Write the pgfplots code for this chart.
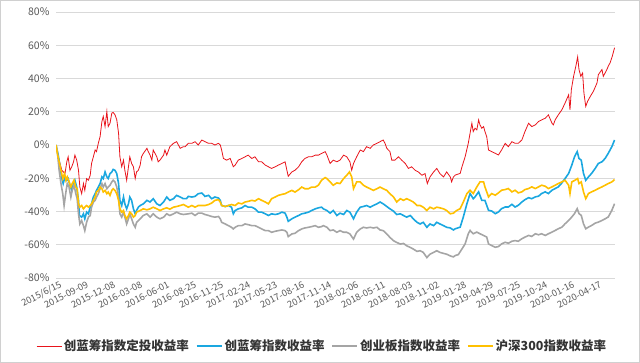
\documentclass[border=0pt]{standalone}
\usepackage{fontspec}
\setmainfont{Noto Sans CJK SC}
\usepackage{pgfplots}
\pgfplotsset{compat=1.18}

\definecolor{cRed}{HTML}{E8141B}
\definecolor{cBlue}{HTML}{1AA7E0}
\definecolor{cGray}{HTML}{A5A5A5}
\definecolor{cGold}{HTML}{FFC000}
\definecolor{gridGray}{HTML}{D9D9D9}
\definecolor{frameGray}{HTML}{D0D0D0}
\definecolor{tickGray}{HTML}{595959}

\begin{document}
\begin{tikzpicture}
\path[use as bounding box] (-56pt,-85pt) rectangle (584pt,278pt);
\draw[frameGray, line width=0.8pt] (-55.6pt,-84.6pt) rectangle (583.6pt,277.6pt);
\begin{axis}[
  at={(0pt,0pt)}, anchor=south west,
  scale only axis, width=559pt, height=266pt,
  xmin=0, xmax=1242, ymin=-80, ymax=80,
  axis line style={draw=none},
  major tick length=0pt,
  ymajorgrids, grid style={gridGray, line width=0.9pt},
  ytick={-80,-60,...,80},
  yticklabels={-80\%,-60\%,-40\%,-20\%,0\%,20\%,40\%,60\%,80\%},
  yticklabel style={font=\fontsize{10.5}{12}\selectfont, text=tickGray, xshift=-3pt},
  xtick={0,60,...,1200},
  xticklabels={2015/6/15,2015-09-09,2015-12-08,2016-03-08,2016-06-01,2016-08-25,2016-11-25,2017-02-24,2017-05-23,2017-08-16,2017-11-14,2018-02-06,2018-05-11,2018-08-03,2018-11-02,2019-01-28,2019-04-29,2019-07-25,2019-10-24,2020-01-16,2020-04-17},
  xticklabel style={font=\fontsize{9.3}{10}\selectfont, text=tickGray, rotate=27, anchor=north east, inner sep=0.5pt, yshift=-3pt, xshift=2pt},
  legend columns=4,
  legend style={at={(axis description cs:0.476,-0.256)}, anchor=center, draw=none, fill=none,
    font=\bfseries\fontsize{12.5}{14}\selectfont, text=black!80,
    /tikz/every even column/.append style={column sep=5pt}},
  legend image code/.code={\draw[#1] (0pt,0pt) -- (25pt,0pt);},
]
% 创蓝筹指数定投收益率
\addplot[cRed, line width=0.8pt] coordinates {
(0,0) (5,-7.1) (13,-15.2) (20,-17.2) (24,-10.1) (27,-7.1) (31,-15.2) (35,-13.1) (39,-10.1) (42,-6.1) (46,-9.1) (50,-15.2) (53,-25.3) (57,-29.3) (61,-23.2) (64,-27.3) (68,-20.2) (72,-21.2) (76,-18.2) (79,-11.1) (83,-7.1) (87,-3.0) (90,-4.0) (94,1.0) (98,5.1) (102,14.1) (105,17.2) (109,11.1) (113,20.2) (116,11.1) (120,13.1) (124,19.2) (127,19.6) (131,18.2) (135,15.2) (139,7.1) (142,-7.1) (146,-13.1) (150,-9.1) (153,-15.2) (157,-21.2) (161,-13.1) (164,-7.1) (168,-11.1) (172,-13.1) (176,-20.2) (179,-16.2) (183,-15.2) (187,-12.1) (190,-7.1) (194,-5.1) (202,-2.0) (205,-4.0) (209,-6.1) (213,-9.1) (216,-3.0) (224,-7.1) (227,-10.1) (231,-9.1) (239,-6.1) (242,-3.0) (246,-6.1) (253,-1.0) (261,1.0) (268,2.0) (276,-2.0) (283,-1.0) (287,-1.0) (294,1.0) (302,1.0) (309,2.0) (316,0) (324,3.0) (331,2.0) (339,1.0) (346,1.0) (353,0) (361,1.0) (365,0) (368,-3.0) (372,-8.1) (379,-9.1) (387,-8.1) (394,-13.1) (398,-12.1) (405,-9.1) (413,-8.1) (420,-7.1) (427,-6.1) (435,-8.1) (442,-7.1) (450,-10.1) (457,-10.1) (465,-12.1) (472,-13.1) (479,-14.1) (487,-13.1) (494,-12.1) (502,-11.1) (509,-10.1) (513,-15.2) (516,-18.8) (524,-16.2) (531,-15.2) (539,-13.1) (546,-10.1) (553,-8.1) (561,-7.1) (568,-7.1) (576,-6.1) (583,-6.1) (590,-5.1) (598,-4.0) (602,-6.1) (609,-11.1) (616,-9.1) (624,-10.1) (631,-9.1) (639,-6.1) (646,-7.1) (653,-10.1) (657,-15.2) (661,-11.1) (668,-7.1) (676,-3.0) (683,-4.0) (690,-1.0) (698,-2.0) (705,0) (713,1.0) (720,2.0) (727,3.0) (731,1.0) (735,-2.0) (742,-4.0) (746,-9.1) (753,-9.1) (761,-7.1) (768,-9.1) (776,-11.1) (783,-14.1) (790,-13.1) (798,-15.2) (805,-16.2) (813,-18.2) (820,-17.2) (825,-23.2) (831,-19.2) (839,-16.2) (846,-14.1) (853,-17.2) (861,-19.2) (868,-16.2) (876,-19.2) (879,-22.2) (883,-19.2) (887,-18.1) (898,-17.1) (902,-13.1) (909,-7.1) (916,1.0) (920,7.1) (924,13.1) (927,8.1) (931,10.1) (935,9.1) (939,15.1) (942,12.1) (946,10.1) (950,11.1) (953,8.1) (957,5.0) (961,-3.0) (968,-4.0) (976,-5.0) (983,-6.0) (990,-3.0) (998,1.0) (1005,-1.0) (1013,2.0) (1020,1.0) (1027,1.0) (1035,3.0) (1042,8.1) (1050,13.1) (1057,11.1) (1065,12.1) (1072,14.1) (1079,15.1) (1087,16.1) (1094,18.1) (1102,13.1) (1105,12.1) (1109,15.1) (1116,18.1) (1124,21.2) (1131,25.2) (1139,30.2) (1142,21.2) (1145,33.3) (1150,41.3) (1155,47.4) (1159,53.0) (1162,45.4) (1166,41.3) (1170,43.3) (1173,31.2) (1177,23.2) (1181,26.2) (1187,29.2) (1194,32.3) (1202,37.3) (1205,42.3) (1213,45.4) (1216,41.3) (1224,45.4) (1227,47.4) (1231,49.4) (1236,53.4) (1241,58.5)
};
\addlegendentry{创蓝筹指数定投收益率}
% 创蓝筹指数收益率
\addplot[cBlue, line width=1.6pt] coordinates {
(0,0) (5,-6.1) (9,-13.1) (13,-20.2) (16,-23.2) (20,-19.2) (24,-21.2) (27,-20.2) (31,-24.2) (35,-27.3) (39,-23.2) (42,-21.2) (46,-25.3) (50,-33.3) (52,-42.4) (57,-43.4) (61,-41.4) (64,-44.4) (68,-40.4) (72,-41.4) (76,-37.4) (79,-35.4) (83,-31.3) (87,-29.3) (90,-27.3) (94,-25.3) (98,-23.2) (102,-19.2) (105,-20.2) (109,-16.2) (113,-19.2) (116,-20.2) (120,-17.2) (124,-16.2) (127,-14.7) (131,-15.2) (135,-17.2) (139,-23.2) (142,-33.3) (146,-36.4) (150,-31.3) (153,-35.4) (157,-38.4) (161,-35.4) (164,-31.3) (168,-33.3) (172,-38.4) (176,-41.4) (179,-39.4) (183,-37.4) (187,-36.4) (194,-35.4) (202,-33.3) (209,-34.3) (216,-32.3) (224,-35.4) (231,-36.4) (239,-34.3) (246,-31.3) (253,-33.3) (261,-32.3) (268,-30.3) (276,-31.3) (283,-32.3) (290,-32.3) (294,-30.9) (302,-31.3) (309,-30.9) (316,-29.3) (324,-28.9) (331,-30.9) (339,-30.3) (346,-32.3) (353,-31.3) (361,-31.9) (365,-33.3) (368,-36.4) (376,-37.0) (383,-36.4) (390,-37.4) (394,-41.4) (398,-39.4) (405,-38.4) (413,-37.8) (420,-36.4) (427,-37.4) (435,-37.4) (442,-38.4) (450,-40.4) (457,-40.4) (465,-41.4) (472,-42.4) (479,-41.4) (487,-41.8) (494,-41.4) (502,-40.4) (509,-41.0) (513,-43.4) (516,-45.9) (524,-44.4) (531,-43.4) (539,-42.4) (546,-41.4) (553,-41.0) (561,-40.4) (568,-39.4) (576,-38.4) (583,-37.8) (590,-37.4) (594,-38.4) (602,-39.4) (609,-41.0) (616,-39.4) (624,-42.4) (631,-41.0) (639,-41.8) (646,-39.4) (653,-40.4) (661,-44.4) (668,-40.4) (676,-37.4) (683,-37.0) (690,-36.4) (698,-37.4) (705,-36.4) (713,-35.4) (720,-34.3) (727,-35.4) (735,-37.0) (742,-38.4) (750,-39.8) (757,-41.8) (765,-41.4) (772,-42.4) (779,-43.4) (787,-42.4) (794,-44.4) (802,-46.5) (809,-47.5) (816,-46.5) (824,-49.5) (831,-47.5) (839,-48.5) (846,-46.5) (853,-47.5) (861,-48.5) (868,-49.5) (876,-49.9) (883,-51.1) (887,-50.4) (898,-49.4) (905,-43.3) (913,-35.3) (920,-29.2) (927,-32.3) (931,-31.2) (939,-28.2) (946,-33.3) (953,-33.3) (961,-39.3) (968,-39.7) (976,-41.3) (983,-40.3) (990,-38.3) (998,-37.3) (1005,-37.3) (1013,-35.7) (1020,-37.3) (1027,-36.3) (1035,-34.3) (1042,-32.9) (1050,-31.7) (1057,-32.3) (1065,-31.2) (1072,-30.8) (1079,-29.2) (1087,-28.2) (1094,-29.2) (1102,-27.2) (1109,-26.2) (1116,-25.2) (1124,-22.8) (1131,-20.2) (1139,-17.1) (1146,-12.1) (1152,-7.1) (1158,-4.0) (1162,-8.1) (1167,-9.1) (1172,-17.1) (1177,-21.2) (1183,-19.2) (1190,-17.1) (1198,-14.1) (1205,-11.1) (1213,-10.1) (1220,-8.1) (1227,-5.0) (1235,-1.0) (1241,3.0)
};
\addlegendentry{创蓝筹指数收益率}
% 创业板指数收益率
\addplot[cGray, line width=1.6pt] coordinates {
(0,0) (3,-4.0) (7,-15.2) (11,-23.2) (15,-29.3) (18,-36.4) (22,-28.3) (25,-23.2) (29,-25.3) (33,-31.3) (36,-27.3) (40,-24.2) (44,-29.3) (47,-32.3) (50,-41.4) (53,-47.5) (57,-45.5) (61,-48.5) (64,-51.5) (68,-46.5) (72,-43.4) (76,-42.4) (79,-37.4) (83,-34.3) (87,-33.3) (90,-31.3) (94,-29.3) (98,-26.3) (102,-23.2) (105,-25.3) (109,-23.2) (113,-26.3) (116,-25.3) (120,-24.2) (124,-22.2) (127,-21.2) (131,-22.2) (135,-25.3) (139,-31.3) (142,-41.4) (146,-43.4) (150,-40.4) (153,-43.4) (157,-47.5) (161,-44.4) (164,-41.4) (168,-44.4) (172,-47.5) (176,-49.5) (179,-46.5) (187,-44.4) (194,-42.4) (202,-41.4) (209,-43.4) (216,-41.4) (224,-43.4) (231,-44.4) (239,-43.4) (246,-41.4) (253,-42.4) (261,-41.4) (268,-40.4) (276,-41.4) (283,-41.8) (294,-41.4) (302,-41.0) (309,-42.4) (316,-41.0) (324,-41.0) (331,-41.8) (339,-42.4) (346,-43.0) (353,-43.4) (361,-43.0) (365,-44.4) (368,-46.5) (376,-47.5) (383,-48.5) (390,-49.5) (394,-50.5) (398,-49.5) (405,-48.5) (413,-48.5) (420,-47.5) (427,-47.9) (435,-48.5) (442,-48.5) (450,-49.5) (457,-50.5) (465,-51.5) (472,-51.5) (479,-52.5) (487,-51.9) (494,-51.5) (502,-51.1) (509,-51.5) (513,-52.5) (516,-55.1) (524,-53.5) (531,-53.1) (539,-51.5) (546,-50.5) (553,-49.9) (561,-49.5) (568,-49.1) (576,-48.5) (583,-49.5) (590,-49.1) (594,-48.5) (602,-49.5) (609,-51.5) (616,-51.1) (624,-52.5) (631,-51.5) (639,-52.5) (646,-52.5) (653,-53.5) (661,-56.6) (668,-52.5) (676,-50.5) (683,-49.5) (690,-49.9) (698,-49.5) (705,-49.9) (713,-49.5) (720,-51.1) (727,-51.5) (735,-53.5) (742,-55.6) (750,-57.6) (757,-58.6) (765,-59.6) (772,-59.2) (779,-60.6) (787,-61.6) (794,-62.6) (802,-64.0) (809,-63.6) (816,-64.6) (824,-67.7) (831,-65.7) (839,-64.6) (846,-63.6) (853,-64.6) (861,-65.2) (868,-65.7) (876,-66.7) (883,-67.3) (887,-66.5) (894,-65.9) (902,-62.5) (909,-59.5) (916,-53.4) (920,-51.4) (927,-53.4) (935,-52.4) (942,-53.4) (950,-54.4) (957,-55.4) (961,-59.5) (968,-60.5) (976,-61.5) (983,-61.1) (990,-59.5) (998,-58.5) (1005,-59.1) (1013,-57.9) (1020,-57.5) (1027,-57.9) (1035,-56.4) (1042,-55.4) (1050,-54.4) (1057,-55.0) (1065,-53.4) (1072,-54.0) (1079,-53.4) (1087,-54.4) (1094,-53.4) (1102,-52.4) (1109,-51.4) (1116,-50.4) (1124,-49.4) (1131,-47.4) (1139,-45.4) (1146,-43.3) (1152,-41.3) (1158,-38.3) (1162,-41.3) (1167,-42.3) (1172,-47.4) (1177,-50.4) (1183,-49.4) (1190,-48.4) (1198,-47.0) (1205,-46.4) (1213,-45.4) (1220,-44.4) (1227,-43.3) (1235,-39.3) (1241,-35.3)
};
\addlegendentry{创业板指数收益率}
% 沪深300指数收益率
\addplot[cGold, line width=1.6pt] coordinates {
(0,0) (3,-5.1) (7,-10.1) (11,-15.2) (15,-20.2) (19,-17.2) (22,-21.2) (25,-19.2) (29,-22.2) (33,-25.3) (36,-23.2) (40,-21.2) (44,-25.3) (47,-26.3) (50,-35.4) (53,-37.4) (57,-36.4) (61,-38.4) (64,-37.4) (68,-36.4) (72,-37.4) (76,-36.4) (79,-35.4) (83,-33.3) (87,-31.3) (90,-28.3) (94,-27.3) (98,-25.3) (102,-26.3) (105,-28.3) (109,-27.3) (113,-29.3) (116,-28.3) (120,-30.3) (124,-27.3) (127,-26.3) (131,-27.3) (135,-29.3) (139,-33.3) (142,-38.4) (146,-40.4) (150,-39.4) (153,-42.4) (157,-44.4) (161,-42.4) (164,-40.4) (168,-41.4) (172,-43.4) (176,-42.4) (179,-40.4) (187,-39.4) (194,-38.4) (202,-39.0) (209,-38.4) (216,-37.4) (224,-38.4) (231,-39.4) (239,-38.4) (246,-37.8) (253,-38.6) (261,-37.4) (268,-37.0) (276,-36.4) (283,-35.8) (294,-37.4) (302,-36.4) (309,-37.4) (316,-36.4) (324,-36.4) (331,-36.4) (339,-35.8) (346,-34.9) (353,-33.3) (361,-32.9) (365,-34.3) (368,-36.4) (376,-37.0) (383,-36.4) (390,-35.8) (398,-36.4) (405,-34.9) (413,-35.4) (420,-34.3) (427,-33.9) (435,-33.3) (442,-33.7) (450,-32.3) (457,-33.3) (465,-34.3) (472,-35.4) (479,-32.3) (487,-31.3) (494,-30.3) (502,-29.7) (509,-29.3) (516,-28.3) (524,-27.3) (531,-28.3) (539,-26.9) (546,-25.3) (553,-26.3) (561,-26.3) (568,-25.3) (576,-25.3) (583,-24.2) (590,-21.2) (598,-19.6) (602,-20.2) (609,-22.2) (616,-24.2) (624,-22.8) (631,-23.2) (639,-20.2) (646,-18.2) (652,-16.2) (657,-19.2) (661,-26.3) (668,-22.2) (676,-22.2) (683,-24.2) (690,-25.3) (698,-26.3) (705,-27.3) (713,-26.3) (720,-25.3) (727,-26.3) (735,-27.3) (742,-29.3) (750,-31.3) (757,-34.3) (765,-32.3) (772,-33.3) (779,-32.3) (787,-33.3) (794,-34.3) (802,-36.4) (809,-36.4) (816,-37.4) (824,-39.4) (831,-37.4) (839,-38.4) (846,-37.4) (853,-37.8) (861,-38.4) (868,-39.4) (876,-41.4) (883,-41.0) (890,-39.4) (898,-38.3) (905,-34.3) (913,-29.2) (920,-27.2) (927,-29.2) (935,-25.2) (942,-22.2) (950,-22.2) (953,-25.2) (961,-31.2) (968,-29.2) (976,-30.2) (983,-28.8) (990,-27.2) (998,-26.8) (1005,-26.2) (1013,-28.2) (1020,-27.2) (1027,-28.8) (1035,-28.2) (1042,-26.8) (1050,-26.2) (1057,-25.2) (1065,-26.2) (1072,-25.2) (1079,-24.2) (1087,-24.8) (1094,-26.2) (1102,-25.2) (1109,-24.2) (1116,-23.2) (1124,-22.2) (1131,-21.2) (1139,-24.2) (1142,-29.2) (1146,-22.2) (1153,-21.2) (1159,-20.2) (1162,-23.2) (1167,-22.2) (1172,-28.2) (1177,-32.3) (1183,-29.2) (1190,-28.2) (1198,-27.2) (1205,-26.2) (1213,-25.2) (1220,-24.2) (1227,-23.2) (1235,-22.2) (1241,-20.8)
};
\addlegendentry{沪深300指数收益率}
\end{axis}
\end{tikzpicture}
\end{document}
